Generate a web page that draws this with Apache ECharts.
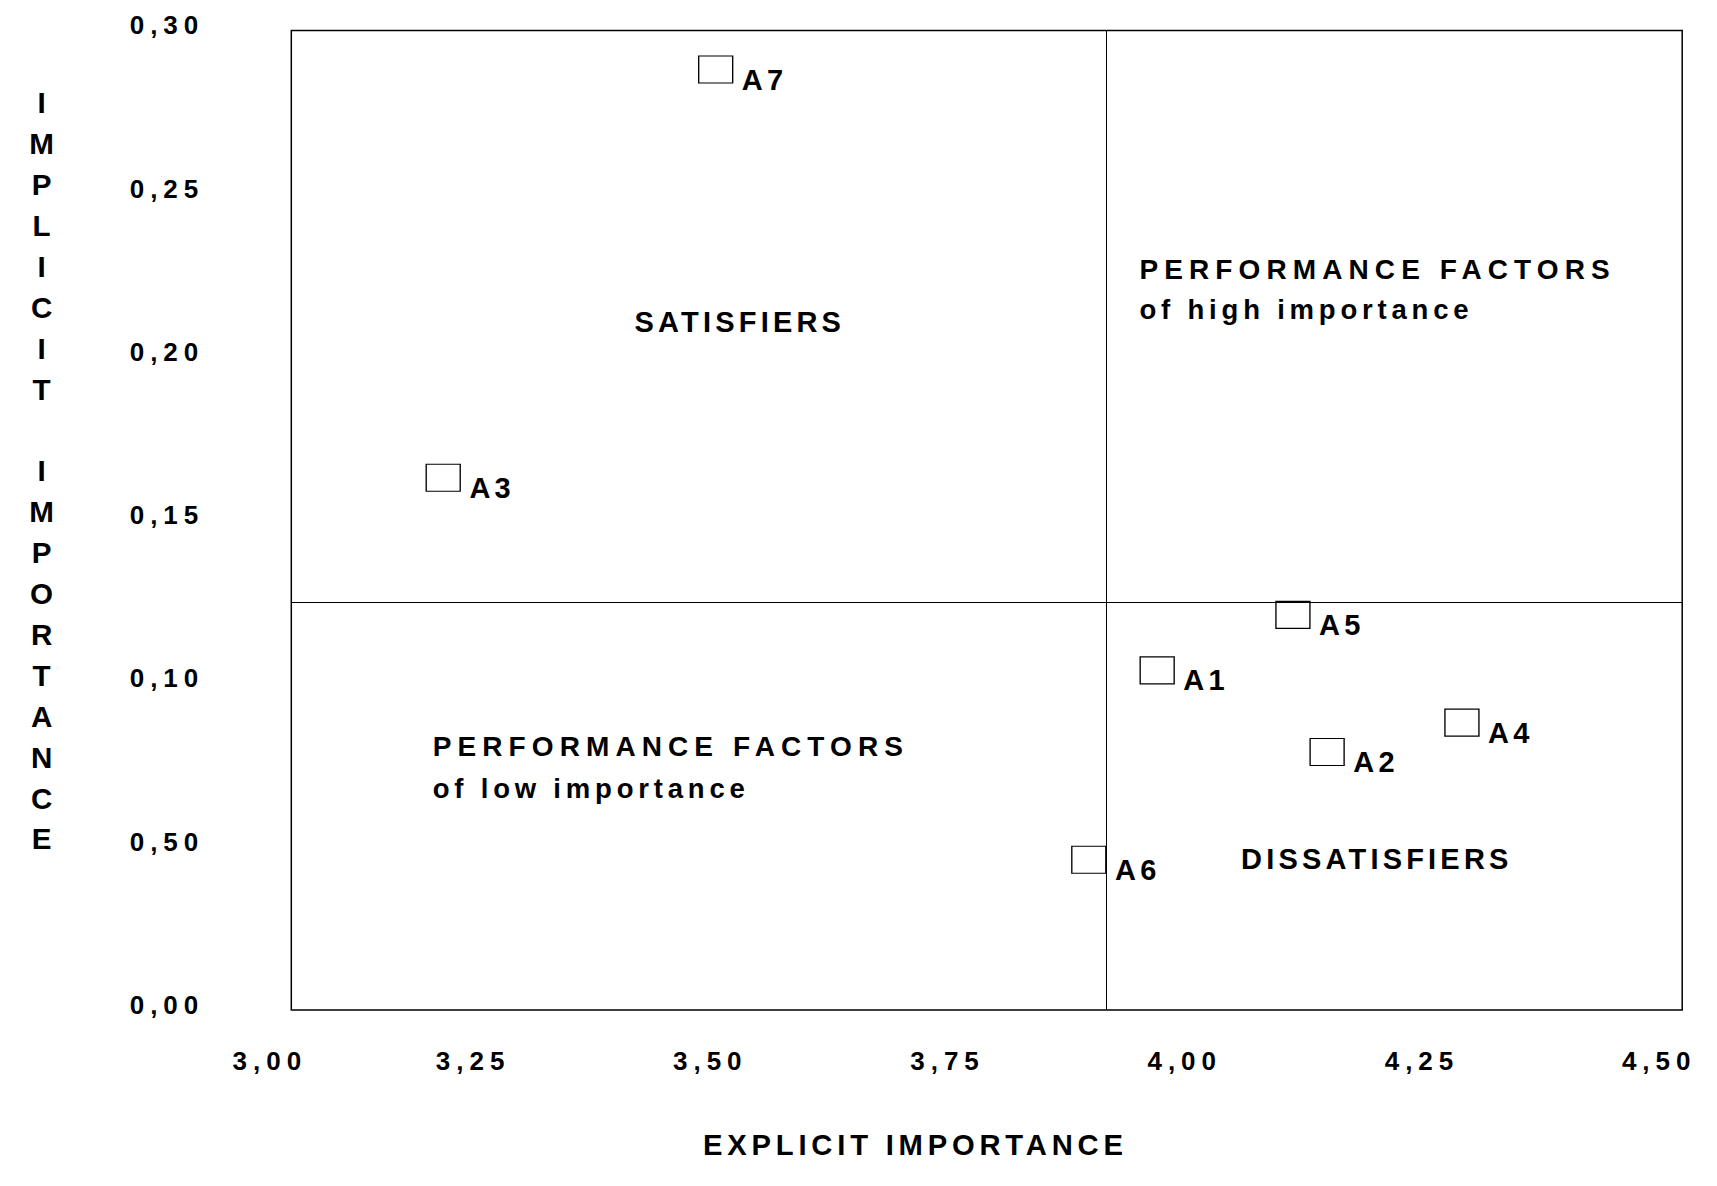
<!DOCTYPE html>
<html>
<head>
<meta charset="utf-8">
<script src="https://cdn.jsdelivr.net/npm/echarts@6/dist/echarts.min.js"></script>
<style>
html, body { margin: 0; padding: 0; background: #ffffff; }
#chart { width: 1717px; height: 1186px; }
#chart text[style*="26px"] { letter-spacing: 6px; }
#chart text[style*="29px"] { letter-spacing: 4.2px; }
#chart text[style*="29.2px"] { letter-spacing: 4.8px; }
#chart text[style*="28px"] { letter-spacing: 6.1px; }
#chart text[style*="27.5px"] { letter-spacing: 4.8px; }
</style>
</head>
<body>
<div id="chart"></div>
<script>
// ---- data ----
const pointNames = ['A1', 'A2', 'A3', 'A4', 'A5', 'A6', 'A7'];
const explicitImportance = [3.974, 4.153, 3.222, 4.295, 4.117, 3.902, 3.509];
const implicitImportance = [0.104, 0.079, 0.163, 0.088, 0.121, 0.046, 0.288];
const xTickLabels = ['3,00', '3,25', '3,50', '3,75', '4,00', '4,25', '4,50'];
const yTickLabels = ['0,00', '0,50', '0,10', '0,15', '0,20', '0,25', '0,30'];
const quadrantSplit = [3.92, 0.125];            // explicit, implicit
const explicitFrameRange = [3.062, 4.527];      // extent covered by the frame
const xAxisTitle = 'EXPLICIT IMPORTANCE';
const yAxisTitle = 'IMPLICIT IMPORTANCE';
const quadrantTitles = ['SATISFIERS', 'PERFORMANCE FACTORS', 'of high importance',
                        'PERFORMANCE FACTORS', 'of low importance', 'DISSATISFIERS'];

const FONT = 'Liberation Sans, Arial, Helvetica, sans-serif';
const chart = echarts.init(document.getElementById('chart'), null, { renderer: 'svg' });

const seriesData = pointNames.map((n, i) => ({ name: n, value: [explicitImportance[i], implicitImportance[i]] }));

const verticalTitle = yAxisTitle.split(' ').map(w => w.split('').join('\n')).join('\n\n');

function txt(x, y, text, size, align) {
  return {
    type: 'text', x: x, y: y, silent: true,
    style: {
      text: text, fill: '#000',
      font: 'bold ' + size + 'px ' + FONT,
      align: align || 'left', verticalAlign: 'middle',
      textAlign: align || 'left', textVerticalAlign: 'middle'
    }
  };
}

const option = {
  backgroundColor: '#ffffff',
  animation: false,
  grid: [
    { left: 291.3, top: 30.4, width: 1390.9, height: 979.6, show: true,
      borderColor: '#000', borderWidth: 1.5, backgroundColor: 'transparent' },
    { left: 232.8, top: 30.4, width: 1423.4, height: 979.6, show: false }
  ],
  xAxis: [
    { type: 'value', gridIndex: 0, min: explicitFrameRange[0], max: explicitFrameRange[1],
      axisLine: { show: false }, axisTick: { show: false }, splitLine: { show: false },
      axisLabel: { show: false } },
    { type: 'value', gridIndex: 1, min: 3, max: 4.5, interval: 0.25,
      axisLine: { show: false }, axisTick: { show: false }, splitLine: { show: false },
      axisLabel: {
        show: true, margin: 38, color: '#000', fontSize: 26, fontWeight: 'bold', fontFamily: FONT,
        padding: [0, 0, 0, 6],
        formatter: function (v) {
          const i = Math.round((v - 3) / 0.25);
          return i === 0 ? '{first|' + xTickLabels[i] + '}' : xTickLabels[i];
        },
        rich: { first: { padding: [0, 0, 0, 68], color: '#000', fontSize: 26, fontWeight: 'bold', fontFamily: FONT } }
      } }
  ],
  yAxis: [
    { type: 'value', gridIndex: 0, min: 0, max: 0.3, interval: 0.05,
      axisLine: { show: false }, axisTick: { show: false }, splitLine: { show: false },
      axisLabel: {
        show: true, margin: 87, color: '#000', fontSize: 26, fontWeight: 'bold', fontFamily: FONT,
        verticalAlign: 'bottom', lineHeight: 10,
        formatter: function (v) { return yTickLabels[Math.round(v / 0.05)]; }
      } },
    { type: 'value', gridIndex: 1, min: 0, max: 0.3, show: false,
      axisLine: { show: false }, axisTick: { show: false }, splitLine: { show: false },
      axisLabel: { show: false } }
  ],
  series: [
    {
      type: 'scatter', xAxisIndex: 0, yAxisIndex: 0,
      symbol: 'rect', symbolSize: [34, 27],
      itemStyle: { color: '#ffffff', borderColor: '#000', borderWidth: 1.2, opacity: 1 },
      label: {
        show: true, position: 'right', distance: 8.5, offset: [0, 10],
        formatter: '{b}', color: '#000', fontSize: 29, fontWeight: 'bold', fontFamily: FONT
      },
      emphasis: { disabled: true },
      data: seriesData,
      markLine: {
        silent: true, symbol: ['none', 'none'], label: { show: false }, precision: 6,
        lineStyle: { color: '#000', width: 1, type: 'solid' },
        emphasis: { disabled: true },
        data: [{ xAxis: quadrantSplit[0] }, { yAxis: quadrantSplit[1] }]
      }
    }
  ],
  graphic: [
    txt(41.6, 470.9, verticalTitle, 29.6, 'center'),
    txt(703, 1145, xAxisTitle, 29.2, 'left'),
    txt(634.5, 322, quadrantTitles[0], 29, 'left'),
    txt(1139.5, 269.4, quadrantTitles[1], 28, 'left'),
    txt(1139.5, 309, quadrantTitles[2], 27.5, 'left'),
    txt(432.7, 746, quadrantTitles[3], 28, 'left'),
    txt(432.7, 788.5, quadrantTitles[4], 27.5, 'left'),
    txt(1241, 859, quadrantTitles[5], 29, 'left')
  ]
};
option.graphic[0].style.lineHeight = 40.9;
chart.setOption(option);
</script>
</body>
</html>
